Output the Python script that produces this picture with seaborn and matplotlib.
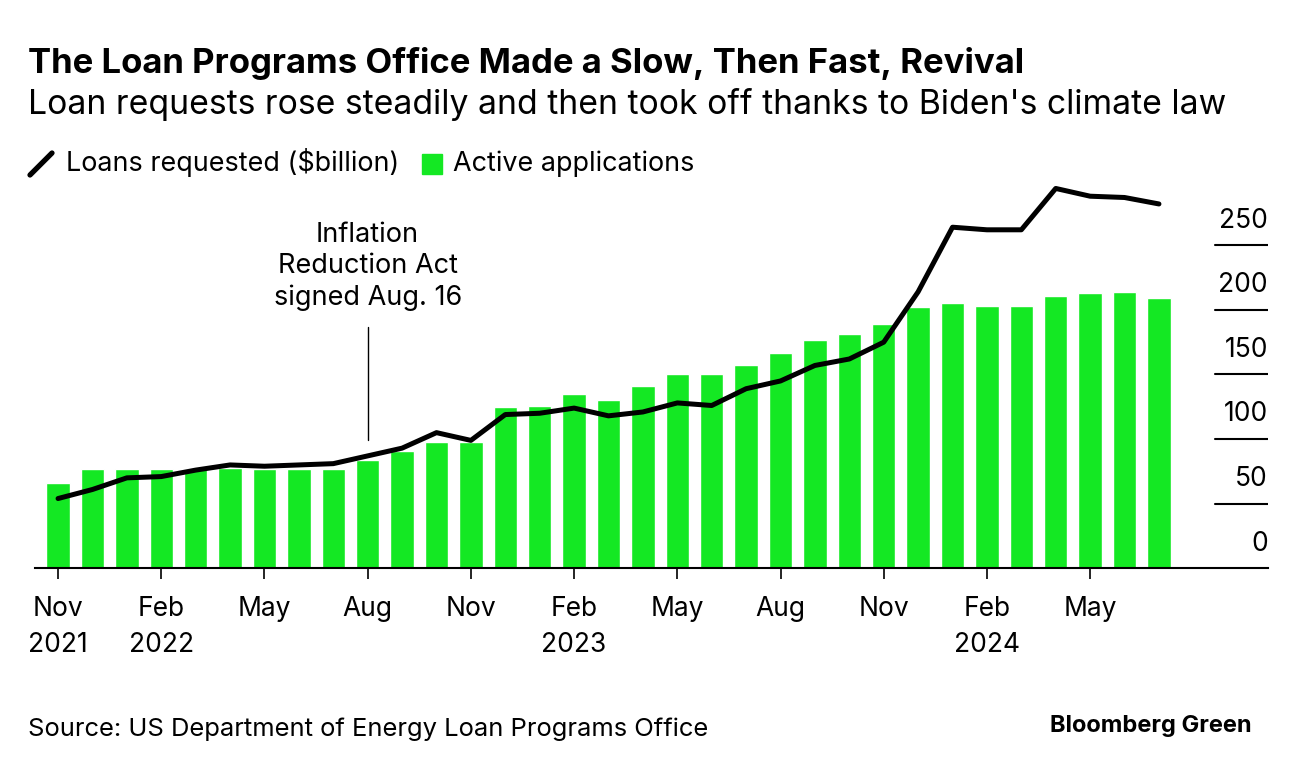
import numpy as np
import pandas as pd
import matplotlib
matplotlib.use('Agg')
import matplotlib.pyplot as plt
import seaborn as sns
from matplotlib.lines import Line2D
from matplotlib.patches import Rectangle

# Monthly data, Nov 2021 .. Jul 2024
months = pd.date_range('2021-11-01', '2024-07-01', freq='MS')
applications = [66, 77, 77, 77, 77, 78, 77, 77, 77, 84, 91, 98, 98,
                125, 126, 135, 130, 141, 150, 150, 157, 167, 177, 181,
                189, 202, 205, 203, 203, 211, 213, 214, 209]
loans = [54, 61, 70, 71, 76, 80, 79, 80, 81, 87, 93, 105, 99,
         119, 120, 124, 118, 121, 128, 126, 139, 145, 157, 162,
         175, 214, 264, 262, 262, 294, 288, 287, 282]
tick_labels = ['Nov\n2021', 'Feb\n2022', 'May', 'Aug', 'Nov', 'Feb\n2023',
               'May', 'Aug', 'Nov', 'Feb\n2024', 'May']
y_ticks = [0, 50, 100, 150, 200, 250]

df = pd.DataFrame({'idx': np.arange(len(months)), 'month': months,
                   'apps': applications, 'loans': loans})

GREEN = '#14e823'
sns.set_theme(style='white')
plt.rcParams['font.family'] = ['Inter', 'DejaVu Sans']
plt.rcParams['text.color'] = 'black'
plt.rcParams['xtick.color'] = 'black'

fig = plt.figure(figsize=(12.96, 7.70), dpi=100)
ax = fig.add_axes([35 / 1296, 1 - 568.3 / 770, 1233 / 1296, (568.3 - 180.7) / 770])

sns.barplot(data=df, x='idx', y='apps', color=GREEN, width=0.68,
            saturation=1, native_scale=True, ax=ax, zorder=2)
sns.lineplot(data=df, x='idx', y='loans', color='black', linewidth=3.6,
             ax=ax, zorder=3)

ax.set_xlim(-0.67, 35.17)
ax.set_ylim(0, 300)
for s in ['top', 'right', 'left']:
    ax.spines[s].set_visible(False)
ax.spines['bottom'].set_color('black')
ax.spines['bottom'].set_linewidth(1.5)
ax.set_xlabel('')
ax.set_ylabel('')

ax.set_xticks(df['idx'][::3])
ax.set_xticklabels(tick_labels, fontsize=19, linespacing=1.5)
ax.tick_params(axis='x', length=8, width=1.2, color='black', pad=12,
               bottom=True, labelcolor='black')
ax.set_yticks([])

# right side value labels with short rules
for v in y_ticks:
    if v > 0:
        ax.axhline(v, xmin=0.957, xmax=1.0, color='black', linewidth=1.5)
    ax.text(1.0, v + 9, str(v), transform=ax.get_yaxis_transform(),
            ha='right', va='bottom', fontsize=19, color='black')

# annotation
ax.plot([9, 9], [99, 187], color='black', linewidth=1.0)
ax.text(9, 199, 'Inflation\nReduction Act\nsigned Aug. 16', ha='center',
        va='bottom', fontsize=19.5, linespacing=1.27, clip_on=False)

# titles
fig.text(28 / 1296, 1 - 73 / 770, 'The Loan Programs Office Made a Slow, Then Fast, Revival',
         fontsize=25, fontweight='bold', va='baseline', ha='left')
fig.text(28 / 1296, 1 - 114 / 770,
         "Loan requests rose steadily and then took off thanks to Biden's climate law",
         fontsize=24.3, va='baseline', ha='left')

# legend
fig.add_artist(Line2D([30 / 1296, 52 / 1296], [1 - 175 / 770, 1 - 153 / 770],
                      color='black', linewidth=3.8, transform=fig.transFigure))
fig.text(66 / 1296, 1 - 171 / 770, 'Loans requested ($billion)', fontsize=19.4,
         va='baseline', ha='left')
fig.add_artist(Rectangle((422 / 1296, 1 - 174 / 770), 20 / 1296, 20 / 770,
                         color=GREEN, transform=fig.transFigure))
fig.text(453 / 1296, 1 - 171 / 770, 'Active applications', fontsize=19.4,
         va='baseline', ha='left')

# footer
fig.text(28 / 1296, 1 - 736 / 770, 'Source: US Department of Energy Loan Programs Office',
         fontsize=18.4, va='baseline', ha='left')
fig.text(1252 / 1296, 1 - 732 / 770, 'Bloomberg Green', fontsize=17,
         fontweight='bold', va='baseline', ha='right')

fig.savefig('out.png', dpi=100)
